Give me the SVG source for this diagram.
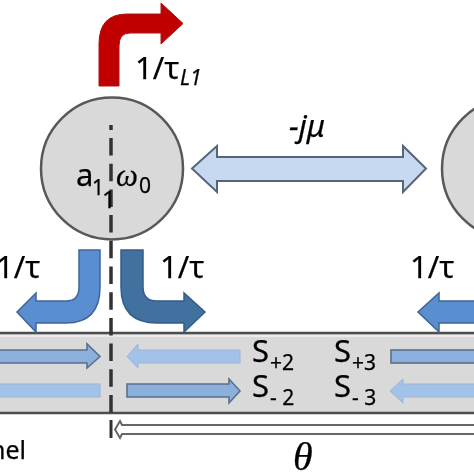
<svg xmlns="http://www.w3.org/2000/svg" width="474" height="474" viewBox="0 0 474 474">
<style>
text{font-family:"Noto Sans","Liberation Sans",sans-serif;fill:#000;stroke:#000;stroke-width:.25}
.l{font-size:31px}.s{font-size:21px}.m{font-size:24px}.i{font-style:italic}
.res{fill:#d9d9d9;stroke:#595959;stroke-width:2.500}
.lt{fill:#a3c2e9;stroke:#9db4d2;stroke-width:1}
.md{fill:#8cb0dc;stroke:#5a6f8c;stroke-width:1.600}
</style>
<defs>
<filter id="soft" x="-5%" y="-5%" width="110%" height="110%"><feGaussianBlur stdDeviation="0.5"/></filter>
</defs>
<rect width="474" height="474" fill="#fff"/>
<g filter="url(#soft)">
<g id="channel">
<rect x="-6" y="333" width="486" height="80" fill="#d9d9d9" stroke="#4d4d4d" stroke-width="2.500"/>
<line x1="-6" y1="336" x2="480" y2="336" stroke="#f0f0f0" stroke-width="1.500"/>
</g>
<g id="resonator-1">
<circle class="res" cx="112" cy="168.500" r="71"/>
</g>
<g id="resonator-2">
<circle class="res" cx="513" cy="168.500" r="71"/>
</g>
<g id="connectors">
<line x1="111" y1="125" x2="111" y2="130" stroke="#333" stroke-width="3.500"/>
<line x1="111" y1="138" x2="111" y2="413" stroke="#333" stroke-width="3.500" stroke-dasharray="17.500 8.200"/>
<path d="M99 86V44Q99 14 127 14H161V3L183 23.500L161 44V33H130Q119 33 119 46V86Z" fill="#c00000" stroke="#a81010" stroke-width="1"/>
<path d="M217 157H403V146L426 168.500L403 192V181H217V192L192 168.500L217 146Z" fill="#c6d9f1" stroke="#56657a" stroke-width="2"/>
<path d="M79 250H100V287Q100 323 66 323H36V332L17 312L36 293V301H66Q79 301 79 287Z" fill="#5a8ed0" stroke="#3f6596" stroke-width="1.500"/>
<path d="M121 250H143V287Q143 301 157 301H184V293L205 312L184 332V323H157Q121 323 121 287Z" fill="#41719f" stroke="#355c8a" stroke-width="1.500"/>
<path d="M480 301H439V293L418 312L439 332V323H480Z" fill="#5a8ed0" stroke="#3f6596" stroke-width="1.500"/>
<path class="md" d="M-6 350H87V344L100 356.500L87 368V363H-6Z"/>
<path class="lt" d="M240 350H138V344L127 356.500L138 368V363H240Z"/>
<rect class="lt" x="-6" y="384" width="106" height="13"/>
<path class="md" d="M127 384H229V379L240 391L229 403V397H127Z"/>
<rect class="md" x="391" y="350" width="90" height="13"/>
<path class="lt" d="M480 384H403V379L390 391L403 403V397H480Z"/>
<path d="M480 425H122L120 421L115 429.500L120 438L122 434H480" fill="#fff" stroke="#666" stroke-width="2"/>
<line x1="111" y1="420" x2="111" y2="438" stroke="#333" stroke-width="3"/>
</g>
<g id="labels">
<text class="l" x="76" y="186">a</text>
<text class="s" x="92" y="195">1</text>
<text class="m" x="102" y="208">1</text>
<text class="l i" x="116" y="186" style="font-family:'Liberation Serif',serif">ω</text>
<text class="s" x="139" y="193">0</text>
<text class="l" x="135" y="79">1/τ</text><text class="s i" x="180" y="85">L1</text>
<text class="l i" x="289" y="137">-jμ</text>
<text class="l" x="-4" y="278">1/τ</text>
<text class="l" x="160" y="278">1/τ</text>
<text class="l" x="410" y="278">1/τ</text>
<text class="l" x="252" y="362">S</text><text class="s" x="270" y="370">+2</text>
<text class="l" x="252" y="397">S</text><text class="s" x="270" y="405">- 2</text>
<text class="l" x="334" y="362">S</text><text class="s" x="352" y="370">+3</text>
<text class="l" x="334" y="397">S</text><text class="s" x="352" y="405">- 3</text>
<text x="-10" y="459" font-size="25">nel</text>
<text x="293" y="470" font-size="40" font-style="italic" style="font-family:'Liberation Serif',serif">θ</text>
</g>
</g>
</svg>
